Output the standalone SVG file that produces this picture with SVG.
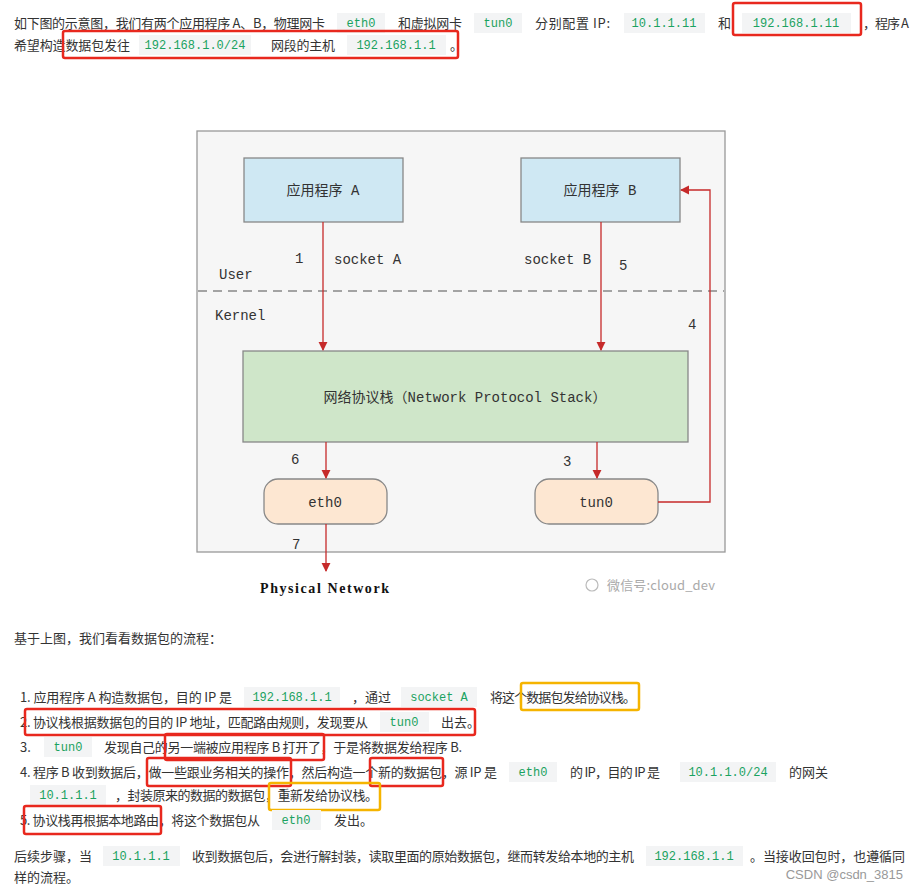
<svg xmlns="http://www.w3.org/2000/svg" width="917" height="887" viewBox="0 0 917 887">
<style>
.t{font-family:"Noto Sans CJK SC","Liberation Sans",sans-serif;font-size:13px;fill:#333}
.c{font-family:"Liberation Mono","DejaVu Sans Mono",monospace;font-size:12px;fill:#1aa260}
.cb{fill:#f3f4f5}
.r{fill:none;stroke:#e8281e;stroke-width:2.5}
.o{fill:none;stroke:#f5b400;stroke-width:2.5}
.d{font-family:"Liberation Mono","Noto Sans CJK SC",monospace;font-size:14px;fill:#333}
.a{stroke:#c62a2a;stroke-width:1.3;fill:none}
.box{stroke:#888;stroke-width:1.3}
</style>
<defs>
<marker id="ar" viewBox="0 0 10 10" refX="9" refY="5" markerWidth="7" markerHeight="7" orient="auto"><path d="M0,0 L10,5 L0,10 z" fill="#c62a2a"/></marker>
</defs>
<rect width="917" height="887" fill="#fff"/>

<text class="t" x="14" y="28" textLength="311">如下图的示意图，我们有两个应用程序 A、B，物理网卡</text>
<rect class="cb" x="337" y="13" width="48" height="20"/><text class="c" x="361" y="27" text-anchor="middle">eth0</text>
<text class="t" x="398" y="28" textLength="64">和虚拟网卡</text>
<rect class="cb" x="474" y="13" width="48" height="20"/><text class="c" x="498" y="27" text-anchor="middle">tun0</text>
<text class="t" x="535" y="28" textLength="75">分别配置 IP:</text>
<rect class="cb" x="624" y="13" width="81" height="20"/><text class="c" x="664" y="27" text-anchor="middle">10.1.1.11</text>
<text class="t" x="718" y="28">和</text>
<rect class="cb" x="742" y="13" width="109" height="20"/><text class="c" x="796" y="27" text-anchor="middle">192.168.1.11</text>
<text class="t" x="863" y="28" textLength="46">，程序 A</text>
<rect class="r" x="733" y="3" width="128" height="32" rx="2"/>
<text class="t" x="14" y="50" textLength="116">希望构造数据包发往</text>
<rect class="cb" x="139" y="35" width="112" height="20"/><text class="c" x="195" y="49" text-anchor="middle">192.168.1.0/24</text>
<text class="t" x="271" y="50" textLength="64">网段的主机</text>
<rect class="cb" x="347" y="35" width="99" height="20"/><text class="c" x="396" y="49" text-anchor="middle">192.168.1.1</text>
<text class="t" x="450" y="50">。</text>
<rect class="r" x="63" y="31" width="395" height="27" rx="2"/>

<rect x="197" y="131" width="528" height="421" fill="#f6f6f6" stroke="#999" stroke-width="1.3"/>
<line x1="198" y1="291" x2="724" y2="291" stroke="#888" stroke-width="1.3" stroke-dasharray="9,6"/>
<text class="d" x="219" y="279">User</text>
<text class="d" x="215" y="320">Kernel</text>

<g id="appA"><rect class="box" x="244" y="158" width="159" height="64" fill="#cfe8f3"/><text class="d" x="323" y="195" text-anchor="middle">应用程序 A</text></g>
<g id="appB"><rect class="box" x="521" y="158" width="159" height="64" fill="#cfe8f3"/><text class="d" x="600" y="195" text-anchor="middle">应用程序 B</text></g>
<g id="stack"><rect class="box" x="243" y="351" width="445" height="91" fill="#cfe6c9"/><text class="d" x="465" y="402" text-anchor="middle">网络协议栈（Network Protocol Stack）</text></g>
<g id="eth0"><rect class="box" x="264" y="479" width="123" height="45" rx="14" fill="#fde7d2"/><text class="d" x="325" y="507" text-anchor="middle">eth0</text></g>
<g id="tun0"><rect class="box" x="535" y="479" width="123" height="45" rx="14" fill="#fde7d2"/><text class="d" x="596" y="507" text-anchor="middle">tun0</text></g>

<g id="connectors">
<line class="a" x1="323" y1="222" x2="323" y2="350" marker-end="url(#ar)"/>
<line class="a" x1="601" y1="222" x2="601" y2="350" marker-end="url(#ar)"/>
<line class="a" x1="326" y1="442" x2="326" y2="478" marker-end="url(#ar)"/>
<line class="a" x1="597" y1="442" x2="597" y2="478" marker-end="url(#ar)"/>
<line class="a" x1="326" y1="524" x2="326" y2="571" marker-end="url(#ar)"/>
<polyline class="a" points="658,502 710,502 710,190 681,190" marker-end="url(#ar)"/>
</g>
<text class="d" x="295" y="263">1</text>
<text class="d" x="334" y="264">socket A</text>
<text class="d" x="524" y="264">socket B</text>
<text class="d" x="619" y="270">5</text>
<text class="d" x="688" y="329">4</text>
<text class="d" x="291" y="464">6</text>
<text class="d" x="563" y="466">3</text>
<text class="d" x="292" y="549">7</text>
<text x="260" y="593" font-family="Liberation Serif,serif" font-weight="bold" font-size="14" fill="#111" textLength="129">Physical Network</text>
<circle cx="592" cy="585" r="6" fill="none" stroke="#bbb" stroke-width="1.2"/>
<text x="607" y="590" font-family="Noto Sans CJK SC,sans-serif" font-size="13" fill="#aaa" textLength="108">微信号:cloud_dev</text>

<text class="t" x="14" y="643">基于上图，我们看看数据包的流程：</text>

<text class="t" x="20" y="702" textLength="212">1. 应用程序 A 构造数据包，目的 IP 是</text>
<rect class="cb" x="244" y="687" width="96" height="20"/><text class="c" x="292" y="701" text-anchor="middle">192.168.1.1</text>
<text class="t" x="352" y="702">，通过</text>
<rect class="cb" x="401" y="687" width="76" height="20"/><text class="c" x="439" y="701" text-anchor="middle">socket A</text>
<text class="t" x="490" y="702" textLength="146">将这个数据包发给协议栈。</text>
<rect class="o" x="521" y="683" width="118" height="27" rx="2"/>

<text class="t" x="20" y="727" textLength="348">2. 协议栈根据数据包的目的 IP 地址，匹配路由规则，发现要从</text>
<rect class="cb" x="380" y="712" width="49" height="20"/><text class="c" x="404" y="726" text-anchor="middle">tun0</text>
<text class="t" x="441" y="727">出去。</text>
<rect class="r" x="25" y="709" width="450" height="26" rx="2"/>

<text class="t" x="20" y="752">3.</text>
<rect class="cb" x="44" y="737" width="48" height="20"/><text class="c" x="68" y="751" text-anchor="middle">tun0</text>
<text class="t" x="104" y="752" textLength="358">发现自己的另一端被应用程序 B 打开了，于是将数据发给程序 B.</text>
<rect class="r" x="165" y="734" width="159" height="26" rx="2"/>

<text class="t" x="20" y="777" textLength="477">4. 程序 B 收到数据后，做一些跟业务相关的操作，然后构造一个新的数据包，源 IP 是</text>
<rect class="cb" x="509" y="762" width="48" height="20"/><text class="c" x="533" y="776" text-anchor="middle">eth0</text>
<text class="t" x="570" y="777" textLength="90">的 IP，目的 IP 是</text>
<rect class="cb" x="680" y="762" width="96" height="20"/><text class="c" x="728" y="776" text-anchor="middle">10.1.1.0/24</text>
<text class="t" x="789" y="777">的网关</text>
<rect class="r" x="147" y="758" width="144" height="28" rx="2"/>
<rect class="r" x="370" y="758" width="73" height="28" rx="2"/>
<rect class="cb" x="30" y="785" width="76" height="20"/><text class="c" x="68" y="799" text-anchor="middle">10.1.1.1</text>
<text class="t" x="115" y="800" textLength="263">，封装原来的数据的数据包，重新发给协议栈。</text>
<rect class="o" x="269" y="783" width="111" height="27" rx="2"/>

<text class="t" x="20" y="825" textLength="240">5. 协议栈再根据本地路由，将这个数据包从</text>
<rect class="cb" x="272" y="810" width="49" height="20"/><text class="c" x="296" y="824" text-anchor="middle">eth0</text>
<text class="t" x="334" y="825">发出。</text>
<rect class="r" x="24" y="806" width="137" height="28" rx="2"/>

<text class="t" x="14" y="861">后续步骤，当</text>
<rect class="cb" x="103" y="846" width="77" height="20"/><text class="c" x="141" y="860" text-anchor="middle">10.1.1.1</text>
<text class="t" x="192" y="861" textLength="442">收到数据包后，会进行解封装，读取里面的原始数据包，继而转发给本地的主机</text>
<rect class="cb" x="646" y="846" width="97" height="20"/><text class="c" x="694" y="860" text-anchor="middle">192.168.1.1</text>
<text class="t" x="750" y="861" textLength="155">。当接收回包时，也遵循同</text>
<text class="t" x="14" y="882">样的流程。</text>
<text x="903" y="879" text-anchor="end" font-family="Liberation Sans,sans-serif" font-size="13" fill="#999">CSDN @csdn_3815</text>
</svg>
